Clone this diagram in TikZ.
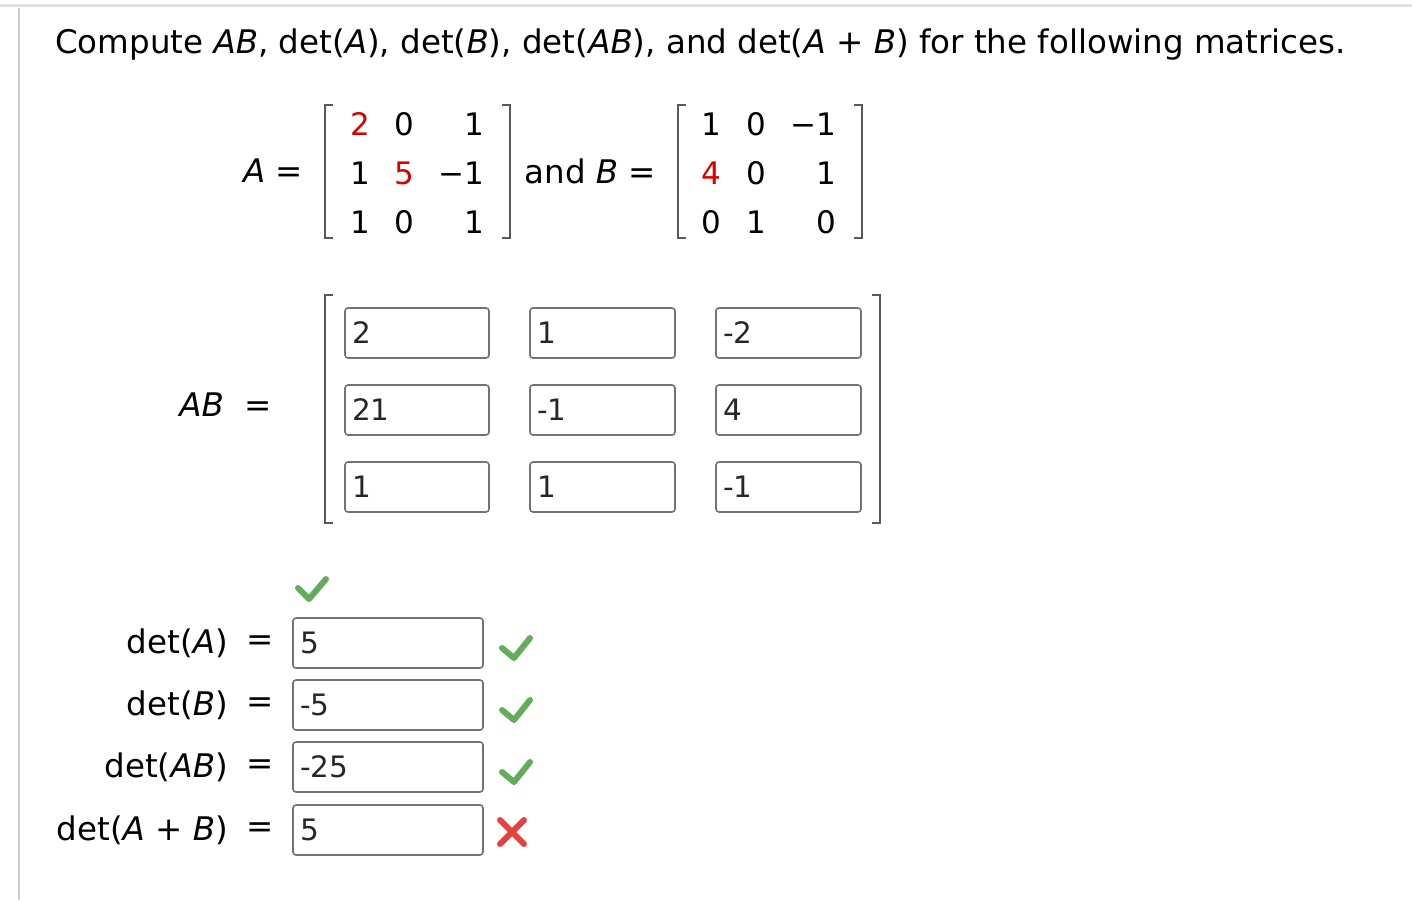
\documentclass[tikz,border=0pt]{standalone}
\usepackage{fontspec}
\setmainfont{DejaVu Sans}
\usepackage{unicode-math}
\setmathfont{Latin Modern Math}
\definecolor{okgreen}{RGB}{98,172,92}
\definecolor{badred}{RGB}{232,64,60}
\begin{document}
\begin{tikzpicture}[x=1pt, y=-1pt,
    txt/.style={font=\fontsize{32.5}{34}\selectfont, inner sep=0pt},
    cell/.style={font=\fontsize{31}{33}\selectfont, inner sep=0pt},
    val/.style={font=\fontsize{29.5}{31}\selectfont, inner sep=0pt, anchor=west, text=black!85},
    field/.style={draw=black!55, line width=1.6pt, rounded corners=3pt},
    brk/.style={draw=black!65, line width=2pt},
    okmark/.style={draw=okgreen, line width=6pt, line cap=round, line join=round},
    badmark/.style={draw=badred, line width=6pt, line cap=round}]
    % page frame
    \useasboundingbox (0,0) rectangle (1412,900);
    \draw[black!12, line width=3pt] (0,5) -- (1412,5);
    \draw[black!20, line width=2pt] (19,8) -- (19,900);

    % question
    \node[txt, anchor=west] (title) at (55,45) {Compute \textit{AB}, det(\textit{A}), det(\textit{B}), det(\textit{AB}), and det(\textit{A} + \textit{B}) for the following matrices.};

    % matrix A
    \node[txt, anchor=east] (Alabel) at (303,171) {\textit{A} =};
    \draw[brk] (333,105) -- (325,105) -- (325,238) -- (333,238);
    \draw[brk] (502,105) -- (510,105) -- (510,238) -- (502,238);
    \foreach \r/\y in {1/124,2/173,3/222} {
        \node[cell] (a\r1) at (360,\y) {\ifnum\r=1 \textcolor{red!85!black}{2}\else 1\fi};
        \node[cell] (a\r2) at (404,\y) {\ifnum\r=2 \textcolor{red!85!black}{5}\else 0\fi};
    }
    \node[cell, anchor=east] (a13) at (484,124) {1};
    \node[cell, anchor=east] (a23) at (484,173) {−1};
    \node[cell, anchor=east] (a33) at (484,222) {1};

    % matrix B
    \node[txt, anchor=east] (Blabel) at (656,171) {and \textit{B} =};
    \draw[brk] (686,105) -- (678,105) -- (678,238) -- (686,238);
    \draw[brk] (854,105) -- (862,105) -- (862,238) -- (854,238);
    \node[cell] (b11) at (711,124) {1};
    \node[cell] (b12) at (756,124) {0};
    \node[cell, anchor=east] (b13) at (836,124) {−1};
    \node[cell] (b21) at (711,173) {\textcolor{red!85!black}{4}};
    \node[cell] (b22) at (756,173) {0};
    \node[cell, anchor=east] (b23) at (836,173) {1};
    \node[cell] (b31) at (711,222) {0};
    \node[cell] (b32) at (756,222) {1};
    \node[cell, anchor=east] (b33) at (836,222) {0};

    % product AB
    \node[txt, anchor=east] (ABlabel) at (272,405) {\textit{AB}\ \ =};
    \draw[brk] (333,295) -- (325,295) -- (325,523) -- (333,523);
    \draw[brk] (872,295) -- (880,295) -- (880,523) -- (872,523);
    \foreach \r/\y/\p/\q/\s in {1/308/2/1/-2, 2/385/21/-1/4, 3/462/1/1/-1} {
        \draw[field] (345,\y) rectangle (489,\y+50);
        \draw[field] (530,\y) rectangle (675,\y+50);
        \draw[field] (716,\y) rectangle (861,\y+50);
        \node[val] (ab\r1) at (352,\y+25) {\p};
        \node[val] (ab\r2) at (537,\y+25) {\q};
        \node[val] (ab\r3) at (723,\y+25) {\s};
    }

    % determinants
    \draw[okmark] (298,588) -- (309,599) -- (326,579);
    \foreach \i/\y/\name/\ans in {1/618/det(\textit{A})/5, 2/680/det(\textit{B})/-5,
                                  3/742/det(\textit{AB})/-25, 4/805/det(\textit{A} + \textit{B})/5} {
        \node[txt, anchor=east] (dl\i) at (228,\y+25) {\name};
        \node[txt] (eq\i) at (260,\y+25) {=};
        \draw[field] (293,\y) rectangle (483,\y+50);
        \node[val] (dv\i) at (300,\y+25) {\ans};
    }
    \foreach \y in {648,710,772}
        \draw[okmark] (502,\y) -- (514,\y+10) -- (530,\y-10);
    \draw[badmark] (500,820) -- (524,844);
    \draw[badmark] (524,820) -- (500,844);
\end{tikzpicture}
\end{document}
